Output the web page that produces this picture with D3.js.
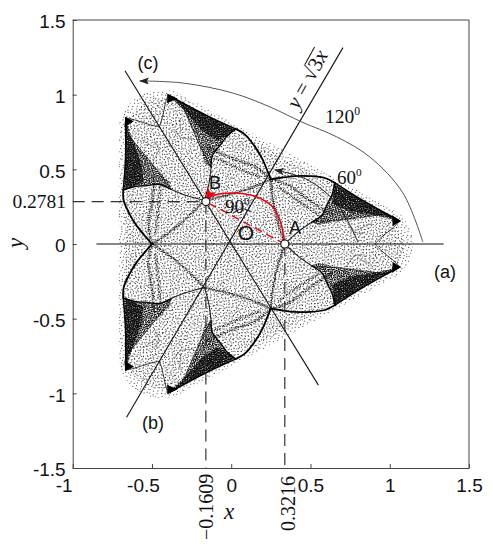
<!DOCTYPE html>
<html><head><meta charset="utf-8">
<script src="https://cdn.jsdelivr.net/npm/d3@7/dist/d3.min.js"></script>
<style>html,body{margin:0;padding:0;background:#fff}svg{display:block}</style>
</head><body><div id="c"></div>
<script>
// Tick data
const xTicks=[-1,-0.5,0,0.5,1,1.5];
const yTicks=[-1.5,-1,-0.5,0,0.5,1,1.5];
const fmt=v=>String(v);
// Special points (marks sit where they are drawn; labels give the printed values)
const pointA=[0.338,0];
const pointB=[-0.16,0.284];
const labelA="0.3216", labelB="\u22120.1609", labelBy="0.2781";
// One 60-degree half sector of the attractor
const envelope=[[0,0],[1.15,0],[1.14,0.07],[1.115,0.13],[1.07,0.2],[0.35,0.617]];
const envelopeInner=[[0,0],[1.09,0],[1.08,0.06],[1.06,0.12],[1.02,0.19],[0.33,0.58]];
const wedge=[[0.509,0.147],[0.572,0.194],[0.609,0.275],[0.635,0.328],[0.654,0.409],[0.717,0.368],[0.824,0.295],[0.874,0.268],[0.969,0.209],[1.064,0.154],[0.969,0.194],[0.843,0.181],[0.698,0.161],[0.546,0.127]];
const wedgeCore=[[0.645,0.405],[0.824,0.295],[1.064,0.154],[0.9,0.195],[0.75,0.22],[0.64,0.27]];
const tip=[[1.013,0.194],[1.07,0.154],[1.019,0.121]];
const topArc=[[0.654,0.409],[0.591,0.442],[0.496,0.455],[0.401,0.455],[0.307,0.442],[0.25,0.433]];
const topEdge=[[1.064,0.154],[0.824,0.295],[0.654,0.409]];
const leftCurve=[[0.509,0.147],[0.572,0.194],[0.609,0.275],[0.635,0.328],[0.654,0.409]];
const leftCurveLow=[[0.338,0],[0.42,0.08],[0.509,0.147]];
const bottomCurve=[[0.509,0.147],[0.698,0.161],[0.843,0.181],[0.969,0.194],[1.064,0.154]];
const hook=[[1.064,0.154],[1.019,0.107],[0.95,0.047],[0.906,0]];
const spine=[[0.25,0.433],[0.262,0.3],[0.29,0.16],[0.338,0]];
const band1=[[0.25,0.433],[0.37,0.39],[0.47,0.31],[0.56,0.245],[0.63,0.2]];
const band2=[[0.3,0.38],[0.42,0.29],[0.55,0.2]];
const band3=[[0.73,0.147],[0.78,0.08],[0.843,0.074]];
const band4=[[0.8,0.094],[0.887,0.14]];
// Annotation curves
const arc120=[[1.209,0.013],[1.083,0.342],[0.874,0.583],[0.666,0.717],[0.445,0.817],[0.244,0.918],[0.01,1.011],[-0.305,1.078],[-0.576,1.092]];
const arc60=[[0.799,0.013],[0.673,0.261],[0.483,0.429],[0.275,0.496]];
const arcRed=[[0.338,0.007],[0.307,0.161],[0.262,0.248],[0.162,0.315],[0.01,0.342],[-0.135,0.315]];
const arc90=[[0.01,0.208],[0.07,0.235],[0.13,0.214]];
// Straight guide lines
const lineH=[[-0.85,0],[1.34,0]];
const lineB=[[-0.66,-1.16],[0.705,1.315]];
const lineC=[[-0.67,1.16],[0.55,-0.945]];
// Stipple tiles (grain only; rows of dot columns)
const tileA=[[2,9,17],[5,14,20],[0,11],[7,16,22],[3,12,19],[9,15],[1,6,21],[13,18],[4,10,16],[0,8,20],[14,22],[3,6,17],[11,19],[1,8,15],[5,21],[2,12,18],[9,16],[0,6,22],[4,13,19],[10,17],[2,7,20],[15,21],[5,11,18]];
const tileB=[[4,12,23],[8,18,27],[1,15,21],[6,26],[10,19,24],[3,14],[7,17,28],[0,11,22],[5,20,25],[13,16],[2,9,27],[18,23],[6,12,21],[0,15,26],[4,10,19],[24,28],[1,8,17],[13,22],[3,11,25],[7,20],[16,27],[2,5,14],[9,23],[12,18,28],[0,6,21],[15,25],[3,10,19],[8,24],[1,13,17]];
const tileM=[[0,3,7,10,14,17],[2,5,9,12,16],[1,4,8,11,13,18],[3,6,10,15,17],[0,5,7,12,14],[2,4,9,13,16,18],[1,6,8,11,15],[3,5,10,12,17],[0,2,7,14,16],[4,6,9,11,13,18],[1,3,8,15,17],[5,7,10,12,14],[0,2,6,9,16,18],[4,8,11,13,15],[1,3,7,10,17],[5,9,12,14,16],[0,2,4,8,13,18],[6,10,11,15,17],[1,3,7,9,12,14]];
const holesD=[[1,5,8,12,15],[3,7,10,14],[0,4,9,11,16],[2,6,13,15],[1,5,8,10],[3,7,12,14,16],[0,2,6,11],[4,9,13,15],[1,7,10,12],[3,5,8,14,16],[0,6,11,13],[2,4,9,15],[1,7,10,16],[3,5,12,14],[0,8,11,13],[2,6,9,15],[4,7,12,16]];

const W=493,H=550;
const x=d3.scaleLinear().domain([-1,1.5]).range([72.7,469]);
const y=d3.scaleLinear().domain([-1.5,1.5]).range([468,20]);
const svg=d3.select('#c').append('svg').attr('width',W).attr('height',H);
const defs=svg.append('defs');
defs.append('filter').attr('id','soft').attr('x',0).attr('y',0).attr('width',1).attr('height',1).attr('filterUnits','userSpaceOnUse')
  .attr('x',0).attr('y',0).attr('width',W).attr('height',H)
  .append('feGaussianBlur').attr('stdDeviation',0.3);
function tile(id,rows,size,fill,rot,op,d){
  const p=defs.append('pattern').attr('id',id).attr('patternUnits','userSpaceOnUse').attr('width',size).attr('height',size).attr('patternTransform',`rotate(${rot})`);
  rows.forEach((r,j)=>r.forEach(i=>p.append('rect').attr('x',i).attr('y',j).attr('width',d).attr('height',d).attr('fill',fill).attr('fill-opacity',op)));
}
tile('pA',tileA,23,'#000',17,1,0.85);
tile('pB',tileB,29,'#000',-29,1,0.85);
tile('pM',tileM,19,'#000',37,1,1);
tile('pM2',tileM,19,'#000',-13,1,1);
tile('pD',holesD.map(h=>d3.range(17).filter(i=>!h.includes(i))),17,'#000',23,0.85,1);
function marker(id,color,w,h){
  defs.append('marker').attr('id',id).attr('viewBox',`0 0 ${w} ${h}`).attr('refX',w-1).attr('refY',h/2)
   .attr('markerWidth',w).attr('markerHeight',h).attr('markerUnits','userSpaceOnUse').attr('orient','auto')
   .append('path').attr('d',`M0,0L${w},${h/2}L0,${h}L${w*0.2},${h/2}Z`).attr('fill',color);
}
marker('aK','#222',10,7); marker('aR','#f00010',14,9);

const straight=d3.line().x(d=>x(d[0])).y(d=>y(d[1]));
const curve=d3.line().x(d=>x(d[0])).y(d=>y(d[1])).curve(d3.curveCatmullRom.alpha(0.5));
// six-fold symmetry of the attractor
const sym=[];
[0,120,240].forEach(a=>[1,-1].forEach(m=>{
  const t=a*Math.PI/180,c=Math.cos(t),s=Math.sin(t);
  sym.push(p=>[c*p[0]-s*m*p[1],s*p[0]+c*m*p[1]]);
}));
const copies=pts=>sym.map(f=>pts.map(f));
const gA=svg.append('g').attr('filter','url(#soft)');
function area(pts,fill){gA.append('path').attr('d',copies(pts).map(d=>straight(d)+'Z').join('')).attr('fill',fill);}
function stroke(pts,col,w,op){gA.selectAll(null).data(copies(pts)).join('path').attr('d',curve).attr('fill','none').attr('stroke',col).attr('stroke-width',w).attr('stroke-opacity',op==null?1:op).attr('stroke-linecap','round');}

area(envelope,'url(#pB)');
area(envelopeInner,'url(#pA)');
area(wedge,'url(#pM)');
area(wedge,'url(#pM2)');
area(wedgeCore,'url(#pD)');
stroke(band1,'url(#pM)',3.5);
stroke(band1,'#222',0.6,0.35);
stroke(band2,'url(#pM2)',3);
stroke(spine,'url(#pM)',3);
stroke(band3,'#222',0.9,0.5);
stroke(band4,'#222',0.9,0.4);
stroke(spine,'#111',0.8,0.55);
stroke(hook,'#111',1,0.8);
stroke(bottomCurve,'#111',0.9,0.75);
stroke(leftCurveLow,'#000',1.1,0.85);
stroke(leftCurve,'#000',1.3);
stroke(topEdge,'#000',1.4);
stroke(topArc,'#000',1.8);
area(tip,'#000');

// Frame and axes
const ax=svg.append('g').attr('transform',`translate(0,${y(-1.5)})`)
  .call(d3.axisBottom(x).tickValues(xTicks).tickFormat(fmt).tickSize(-4).tickSizeOuter(0));
const ay=svg.append('g').attr('transform',`translate(${x(-1)},0)`)
  .call(d3.axisLeft(y).tickValues(yTicks).tickFormat(fmt).tickSize(-4).tickSizeOuter(0));
[ax,ay].forEach(g=>{g.selectAll('path,line').attr('stroke','#444').attr('stroke-width',1);
  g.selectAll('text').attr('font-family','"Liberation Sans",Arial,sans-serif').attr('font-size',19).attr('fill','#111');});
ax.selectAll('text').attr('y',24).attr('dy',0).attr('dx',d=>d<0?-9:0);
ay.selectAll('text').attr('x',-7).attr('dy','0.42em');
svg.append('path').attr('d',`M${x(-1)},${y(1.5)}H${x(1.5)}V${y(-1.5)}`).attr('fill','none').attr('stroke','#444');

// Guide lines
const guides=svg.append('g');
[lineH,lineB,lineC].forEach(l=>guides.append('path').attr('d',straight(l)).attr('stroke','#111').attr('stroke-width',1.1).attr('fill','none'));
const dashed=[[[-1,pointB[1]],pointB],[pointB,[pointB[0],-1.5]],[pointA,[pointA[0],-1.5]]];
dashed.forEach(l=>guides.append('path').attr('d',straight(l)).attr('stroke','#333').attr('stroke-width',1.2).attr('stroke-dasharray','12 7').attr('fill','none'));
// Annotation arcs
guides.append('path').attr('d',curve(arc120)).attr('fill','none').attr('stroke','#555').attr('stroke-width',1).attr('marker-end','url(#aK)');
guides.append('path').attr('d',curve(arc60)).attr('fill','none').attr('stroke','#222').attr('stroke-width',1).attr('marker-end','url(#aK)');
guides.append('path').attr('d',curve(arc90)).attr('fill','none').attr('stroke','#222').attr('stroke-width',1);
guides.append('path').attr('d',straight([pointA,pointB])).attr('fill','none').attr('stroke','#f00010').attr('stroke-width',1.4).attr('stroke-dasharray','8 5');
guides.append('path').attr('d',curve(arcRed.concat([pointB]))).attr('fill','none').attr('stroke','#f00010').attr('stroke-width',1.6).attr('marker-end','url(#aR)');
[pointA,pointB].forEach(p=>guides.append('circle').attr('cx',x(p[0])).attr('cy',y(p[1])).attr('r',4).attr('fill','#fff').attr('stroke','#111').attr('stroke-width',1.1));

// Text
const SANS='"Liberation Sans",Arial,sans-serif', SERIF='"Liberation Serif","Times New Roman",serif';
function txt(s,px,py,size,fam,opt={}){
  const t=svg.append('text').attr('x',px).attr('y',py).attr('font-size',size).attr('font-family',fam)
   .attr('fill',opt.fill||'#111').attr('text-anchor',opt.anchor||'middle').text(s);
  if(opt.italic)t.attr('font-style','italic');
  if(opt.rot!=null)t.attr('transform',`rotate(${opt.rot} ${px} ${py})`);
  return t;
}
txt('(c)',148,69,18,SANS);
txt('(b)',153,429,18,SANS);
txt('(a)',445,278,18,SANS);
txt('O',246,240,21,SANS);
txt('A',295,234,18,SANS);
txt('B',215,189,18,SANS);
function sup(s,px,py,size){
  const t=txt(s,px,py,size,SERIF,{anchor:'start'});
  t.append('tspan').attr('dy',-size*0.42).attr('font-size',size*0.6).text('0');
}
sup('90',225,213,19);
sup('60',337,184,19);
sup('120',325,123,19.5);
txt(labelBy,66,208,19.5,SERIF,{anchor:'end'});
txt(labelB,213,540,20,SERIF,{anchor:'start',rot:-90});
txt(labelA,295,531,20,SERIF,{anchor:'start',rot:-90});
txt('x',229,519,23,SERIF,{italic:true});
txt('y',23,243,23,SERIF,{italic:true,rot:-90});
// y = sqrt(3)x along the line
const g=svg.append('g').attr('transform','translate(298,110) rotate(-61)');
const eq=g.append('text').attr('font-family',SERIF).attr('font-size',21).attr('fill','#111');
eq.append('tspan').attr('font-style','italic').text('y');
eq.append('tspan').text(' = \u221A3');
eq.append('tspan').attr('font-style','italic').text('x');
const nd=eq.node();
const s0=nd.getStartPositionOfChar(5).x, s1=nd.getEndPositionOfChar(nd.getNumberOfChars()-1).x;
g.append('line').attr('x1',s0).attr('x2',s1).attr('y1',-16).attr('y2',-16).attr('stroke','#111').attr('stroke-width',1);
</script></body></html>
